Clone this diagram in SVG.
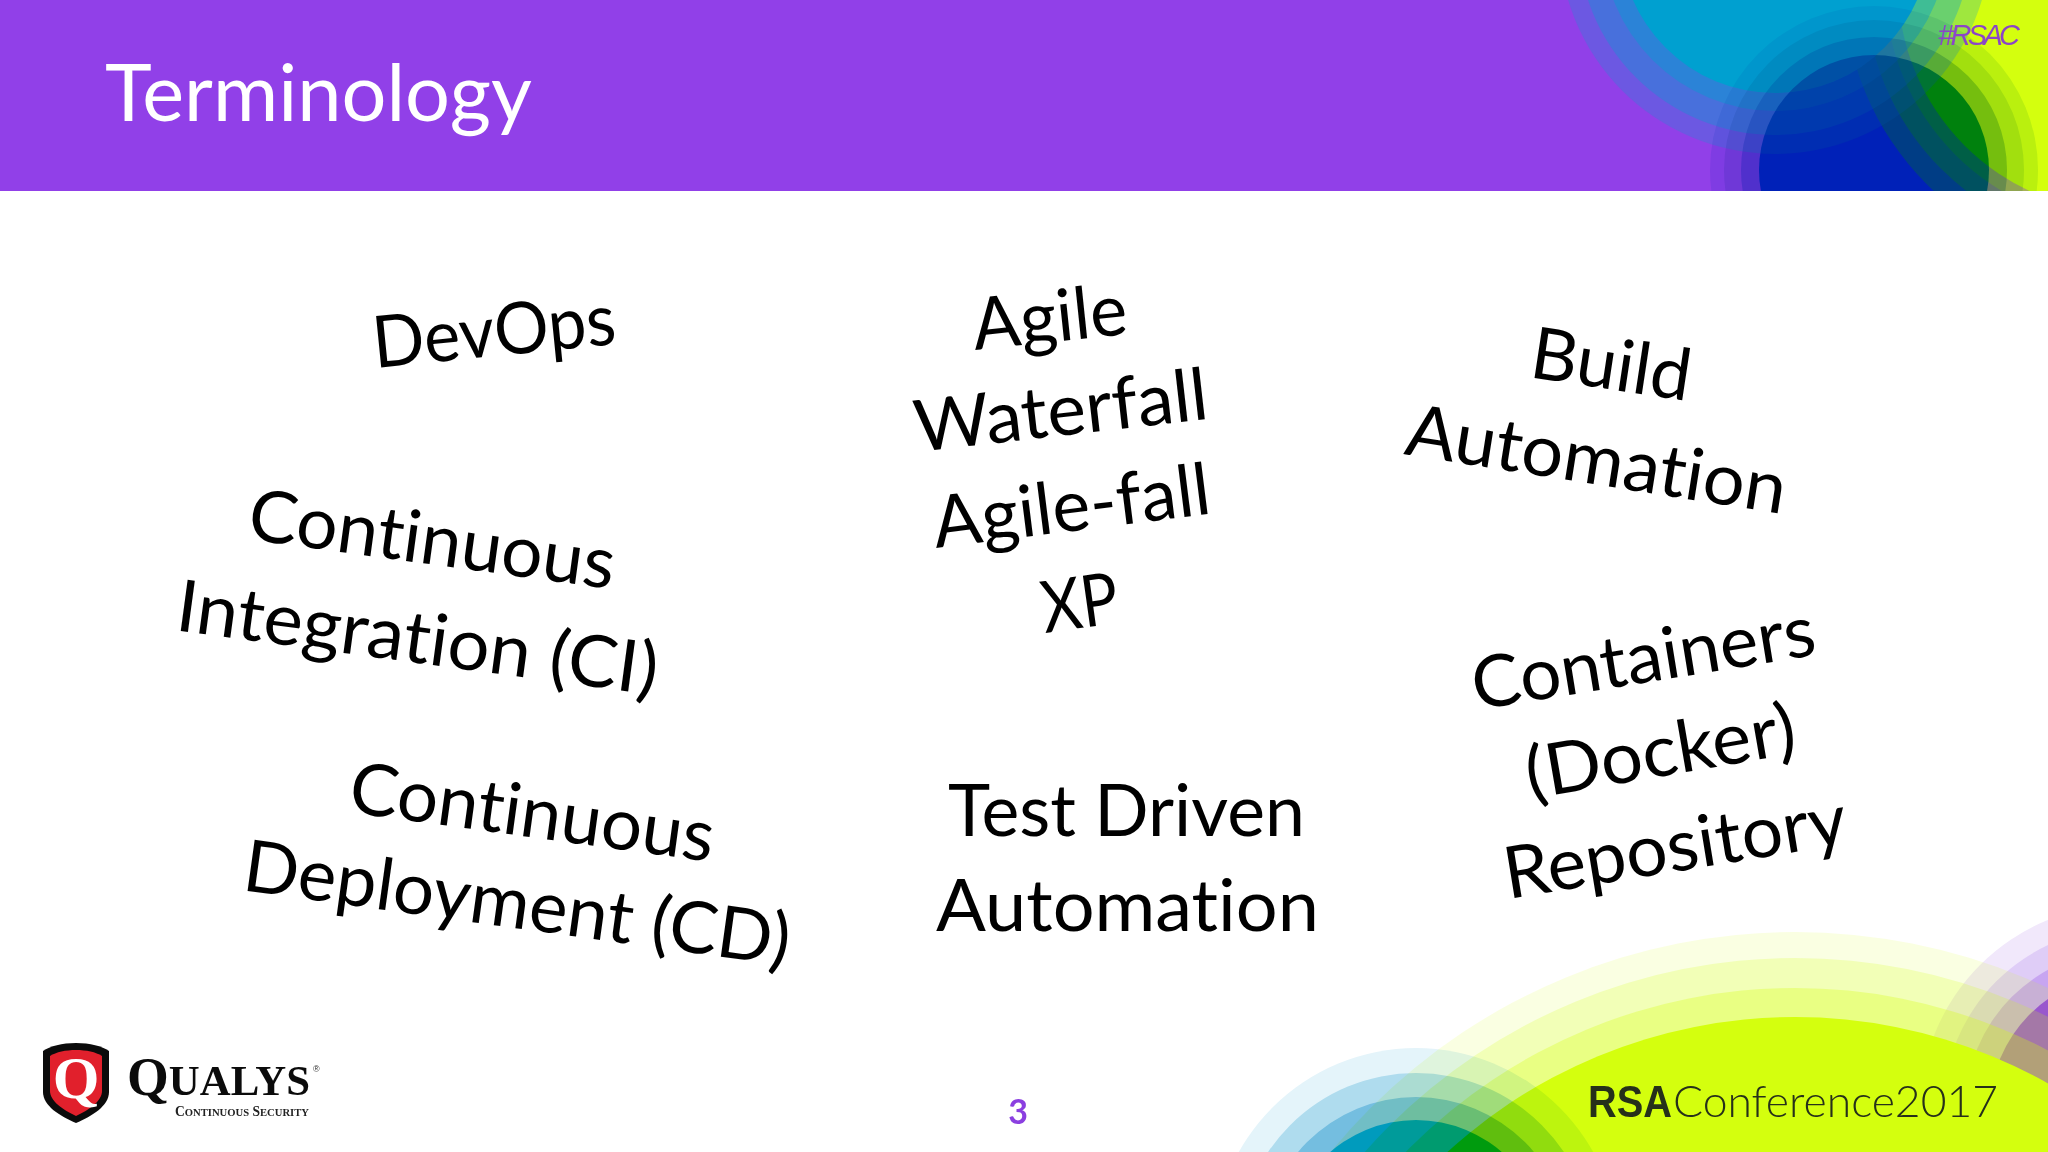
<svg xmlns="http://www.w3.org/2000/svg" width="2048" height="1152" viewBox="0 0 2048 1152">
<style>
.t{font-family:Lato,"Open Sans",sans-serif;font-size:72px;fill:#000;font-variant-ligatures:none}
.m{mix-blend-mode:multiply}
.q{font-family:"Liberation Serif",serif;font-weight:700;fill:#0b0b0b}
</style>
<defs>
<clipPath id="band"><rect width="2048" height="191"/></clipPath>
</defs>
<rect width="2048" height="1152" fill="#fff"/>
<g id="header">
<g clip-path="url(#band)">
<rect width="2048" height="191" fill="#9140e8"/>
<g fill="#d4ff0e">
<circle cx="2125" cy="-15" r="281" opacity=".3"/>
<circle cx="2125" cy="-15" r="260" opacity=".3"/>
<circle cx="2125" cy="-15" r="240" opacity=".3"/>
<circle cx="2125" cy="-15" r="227"/>
</g>
<g fill="#00a0d0">
<circle cx="1775" cy="-62" r="216" opacity=".25"/>
<circle cx="1775" cy="-62" r="197" opacity=".33"/>
<circle cx="1775" cy="-62" r="173" opacity=".4"/>
<circle cx="1775" cy="-62" r="155"/>
</g>
<circle class="m" cx="1874" cy="170" r="164" fill="#e0f0fa"/>
<circle class="m" cx="1874" cy="170" r="150" fill="#deedf2"/>
<circle class="m" cx="1874" cy="170" r="133" fill="#b8d9f2"/>
<circle class="m" cx="1874" cy="170" r="115" fill="#00ade6"/>
</g>
</g>
<text x="105" y="121" font-family="Lato,'Open Sans',sans-serif" font-size="80" fill="#fff" textLength="427" lengthAdjust="spacingAndGlyphs">Terminology</text>
<text x="1938" y="45" font-family="'Liberation Sans',Arial,sans-serif" font-style="italic" font-size="29" fill="#8b45c8" textLength="82">#RSAC</text>
<g id="bottom-art">
<g id="purple">
<circle cx="2125" cy="1110" r="205" fill="#f1e8fb"/>
<circle cx="2125" cy="1110" r="182" fill="#dfcdf7"/>
<circle cx="2125" cy="1110" r="160" fill="#c7a5f1"/>
<circle cx="2125" cy="1110" r="135" fill="#9140e8"/>
</g>
<g id="yellow" fill="#d4ff0e">
<circle cx="1795" cy="1532" r="600" opacity=".12"/>
<circle cx="1795" cy="1532" r="574" opacity=".2"/>
<circle cx="1795" cy="1532" r="544" opacity=".3"/>
<circle cx="1795" cy="1532" r="515"/>
</g>
<g id="teal">
<circle class="m" cx="1416" cy="1251" r="203" fill="#e4f4fa"/>
<circle class="m" cx="1416" cy="1251" r="178" fill="#c4e6f3"/>
<circle class="m" cx="1416" cy="1251" r="154" fill="#a9dcf0"/>
<circle class="m" cx="1416" cy="1251" r="131" fill="#00d0f5"/>
</g>
</g>
<g id="terms">
<text class="t" transform="translate(375,368) rotate(-5.7)" textLength="244" lengthAdjust="spacingAndGlyphs">DevOps</text>
<text class="t" transform="translate(975,350) rotate(-6)" textLength="155" lengthAdjust="spacingAndGlyphs">Agile</text>
<text class="t" transform="translate(917,452) rotate(-6.5)" textLength="295" lengthAdjust="spacingAndGlyphs">Waterfall</text>
<text class="t" transform="translate(936,548) rotate(-7.1)" textLength="279" lengthAdjust="spacingAndGlyphs">Agile-fall</text>
<text class="t" transform="translate(1045,633) rotate(-8)" textLength="77" lengthAdjust="spacingAndGlyphs">XP</text>
<text class="t" transform="translate(1528,377) rotate(8.6)" textLength="161" lengthAdjust="spacingAndGlyphs">Build</text>
<text class="t" transform="translate(1403,454) rotate(9)" textLength="384" lengthAdjust="spacingAndGlyphs">Automation</text>
<text class="t" transform="translate(246,539) rotate(7.8)" textLength="369" lengthAdjust="spacingAndGlyphs">Continuous</text>
<text class="t" transform="translate(174,630) rotate(7.7)" textLength="485" lengthAdjust="spacingAndGlyphs">Integration (CI)</text>
<text class="t" transform="translate(347,812) rotate(7.8)" textLength="367" lengthAdjust="spacingAndGlyphs">Continuous</text>
<text class="t" transform="translate(241,890) rotate(7.9)" textLength="551" lengthAdjust="spacingAndGlyphs">Deployment (CD)</text>
<text class="t" transform="translate(1476,710) rotate(-9.2)" textLength="347" lengthAdjust="spacingAndGlyphs">Containers</text>
<text class="t" transform="translate(1530,799) rotate(-9.8)" textLength="273" lengthAdjust="spacingAndGlyphs">(Docker)</text>
<text class="t" transform="translate(1508,899) rotate(-9.3)" textLength="346" lengthAdjust="spacingAndGlyphs">Repository</text>
<text class="t" x="948" y="836" textLength="357" lengthAdjust="spacingAndGlyphs">Test Driven</text>
<text class="t" x="936" y="931" textLength="383" lengthAdjust="spacingAndGlyphs">Automation</text>
</g>
<text id="page" x="1018" y="1124" text-anchor="middle" font-family="Lato,sans-serif" font-weight="700" font-size="34" fill="#8b3fe0">3</text>
<g id="rsa-logo" fill="#26301a">
<text x="1588" y="1117" font-family="'Liberation Sans',sans-serif" font-weight="700" font-size="44" textLength="84" lengthAdjust="spacingAndGlyphs">RSA</text>
<text x="1673" y="1117" font-family="Lato,sans-serif" font-weight="300" font-size="44" textLength="325" lengthAdjust="spacingAndGlyphs">Conference2017</text>
</g>
<g id="qualys-logo">
<path d="M76 1043C62 1043 50 1046 43 1051V1092C43 1106 60 1116 76 1123C92 1116 109 1106 109 1092V1051C102 1046 90 1043 76 1043Z" fill="#0b0b0b"/>
<path d="M76 1050C66 1050 56 1052 50 1056V1091C50 1101 63 1110 76 1116C89 1110 102 1101 102 1091V1056C96 1052 86 1050 76 1050Z" fill="#e1202c"/>
<text x="76" y="1098" text-anchor="middle" font-family="'Liberation Serif',serif" font-weight="700" font-size="60" fill="#fff">Q</text>
<text class="q" x="127" y="1095" font-size="54" textLength="183" lengthAdjust="spacingAndGlyphs">Q<tspan font-size="43">UALYS</tspan></text>
<text x="313" y="1072" font-family="'Liberation Sans',sans-serif" font-size="9" fill="#333">®</text>
<text x="175" y="1116" font-family="'Liberation Serif',serif" font-size="14" font-weight="700" fill="#222" textLength="134" lengthAdjust="spacingAndGlyphs">C<tspan font-size="11">ONTINUOUS</tspan> S<tspan font-size="11">ECURITY</tspan></text>
</g>
</svg>
